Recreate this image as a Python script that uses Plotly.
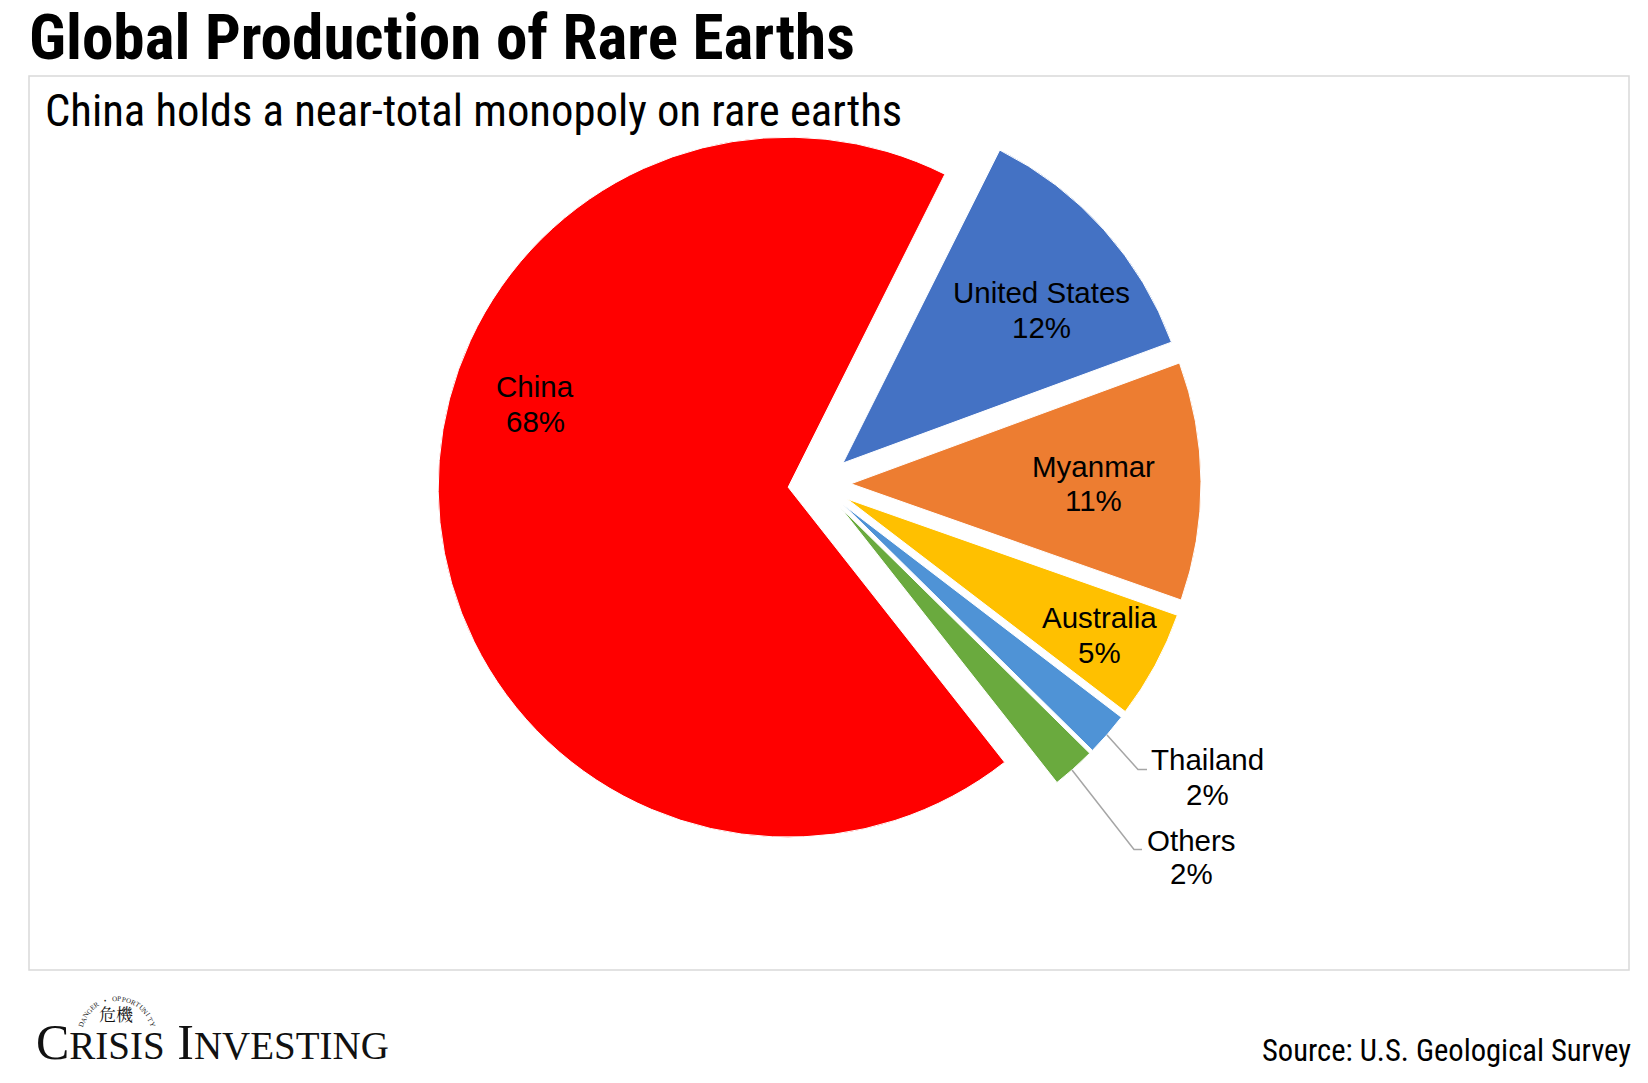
import math
import plotly.graph_objects as go

W, H = 1648, 1083

# ---- data ----
labels = ["United States", "Myanmar", "Australia", "Thailand", "Others", "China"]
values = [12, 11, 5, 2, 2, 68]
colors = ["#4472C4", "#ED7D31", "#FFC000", "#4F93D6", "#6AAA3E", "#FF0000"]

title_text = "Global Production of Rare Earths"
subtitle_text = "China holds a near-total monopoly on rare earths"
source_text = "Source: U.S. Geological Survey"
logo_arc_text = "DANGER \u2022 OPPORTUNITY"
logo_cjk = "危機"

# ---- layout helpers (pixel -> paper) ----
def px(x):
    return x / W

def py(y):
    return 1 - y / H

NARROW = "Liberation Sans Narrow, Arial Narrow, Roboto Condensed, DejaVu Sans Condensed, sans-serif"
ARIAL = "Liberation Sans, Arial, sans-serif"
SERIF = "Liberation Serif, Times New Roman, serif"

# pie geometry (pixels)
cx, cy, r, pull = 819.5, 484, 350, 0.09
half = r * (1 + pull)

fig = go.Figure()
fig.add_trace(go.Pie(
    labels=labels,
    values=values,
    sort=False,
    direction="clockwise",
    rotation=26.6,
    pull=pull,
    marker=dict(colors=colors, line=dict(color="white", width=1)),
    textinfo="none",
    hoverinfo="label+percent",
    showlegend=False,
    domain=dict(x=[px(cx - half), px(cx + half)], y=[py(cy + half), py(cy - half)]),
))

annotations = []
shapes = []

# frame box
shapes.append(dict(type="rect", xref="paper", yref="paper",
                   x0=px(29), x1=px(1629), y0=py(970), y1=py(76),
                   line=dict(color="#D9D9D9", width=1.5), layer="below"))

# title & subtitle
annotations.append(dict(text=f"<b>{title_text}</b>", x=px(27), y=py(36.5), xref="paper", yref="paper",
                        xanchor="left", yanchor="middle", showarrow=False,
                        font=dict(family=NARROW, size=63.2, color="black")))
annotations.append(dict(text=subtitle_text, x=px(43), y=py(110.5), xref="paper", yref="paper",
                        xanchor="left", yanchor="middle", showarrow=False,
                        font=dict(family=NARROW, size=44.7, color="black")))

# slice labels (name line center y, pct line center y)
label_pos = {
    "China": (535, 387, 421.5),
    "United States": (1041, 292.5, 327.5),
    "Myanmar": (1093, 466, 500),
    "Australia": (1099.5, 617, 652),
    "Thailand": (1207.5, 759, 794),
    "Others": (1191, 840, 873.5),
}
for lab, val in zip(labels, values):
    x, y1, y2 = label_pos[lab]
    for t, yy in ((lab, y1), (f"{val}%", y2)):
        annotations.append(dict(text=t, x=px(x), y=py(yy), xref="paper", yref="paper",
                                xanchor="center", yanchor="middle", showarrow=False,
                                font=dict(family=ARIAL, size=29.5, color="black")))

# leader lines for small slices
leaders = [
    [(1107, 735), (1138, 769.5), (1147, 769.5)],
    [(1072, 770), (1134, 849.5), (1142, 849.5)],
]
for pts in leaders:
    path = "M " + " L ".join(f"{px(a)},{py(b)}" for a, b in pts)
    shapes.append(dict(type="path", xref="paper", yref="paper", path=path,
                       line=dict(color="#A6A6A6", width=1.5)))

# source
annotations.append(dict(text=source_text, x=px(1633), y=py(1050), xref="paper", yref="paper",
                        xanchor="right", yanchor="middle", showarrow=False,
                        font=dict(family=NARROW, size=30.6, color="black")))

# logo: CRISIS INVESTING in small caps
small = 'style="font-size:39px"'
logo = f"C<span {small}>RISIS</span> I<span {small}>NVESTING</span>"
annotations.append(dict(text=logo, x=px(34), y=py(1042), xref="paper", yref="paper",
                        xanchor="left", yanchor="middle", showarrow=False,
                        font=dict(family=SERIF, size=50, color="#111111")))
annotations.append(dict(text=logo_cjk, x=px(116), y=py(1013), xref="paper", yref="paper",
                        xanchor="center", yanchor="middle", showarrow=False,
                        font=dict(family="Noto Serif CJK SC, Noto Sans CJK SC", size=17, color="#111111")))
# arched small text
acx, acy, ar = 117, 1036, 37
n = len(logo_arc_text)
span = 150.0
for i, ch in enumerate(logo_arc_text):
    ang = -span / 2 + span * (i + 0.5) / n
    a = math.radians(ang)
    annotations.append(dict(text=ch, x=px(acx + ar * math.sin(a)), y=py(acy - ar * math.cos(a)),
                            xref="paper", yref="paper", xanchor="center", yanchor="middle",
                            showarrow=False, textangle=ang,
                            font=dict(family=SERIF, size=7, color="#222222")))

fig.update_layout(
    width=W, height=H, autosize=False,
    margin=dict(l=0, r=0, t=0, b=0),
    paper_bgcolor="white", plot_bgcolor="white",
    annotations=annotations, shapes=shapes,
)

fig.write_html("out.html", config={"displayModeBar": False})
